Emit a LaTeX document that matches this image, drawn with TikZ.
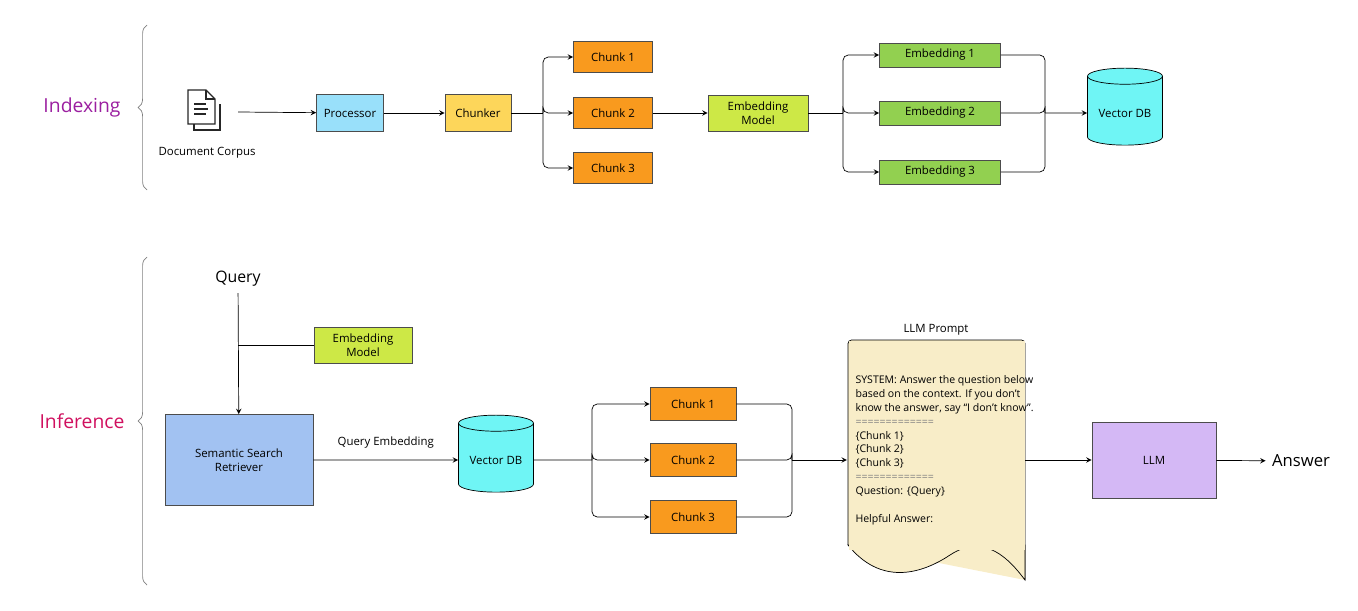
\documentclass[tikz,border=0pt]{standalone}
\usepackage{fontspec}
\setmainfont{Open Sans}
\usetikzlibrary{positioning}
\usetikzlibrary{arrows}
\usetikzlibrary{shapes.geometric}
\usetikzlibrary{decorations.pathreplacing}
\definecolor{procblue}{HTML}{99E0FA}
\definecolor{chunkyellow}{HTML}{FDD65A}
\definecolor{chunkorange}{HTML}{F99A1E}
\definecolor{embmodel}{HTML}{CDE846}
\definecolor{embgreen}{HTML}{92D050}
\definecolor{dbcyan}{HTML}{6FF5F5}
\definecolor{retblue}{HTML}{A2C2F2}
\definecolor{llmpurple}{HTML}{D4B8F5}
\definecolor{promptbg}{HTML}{F8EDC8}
\definecolor{idxpurple}{HTML}{9B1FA0}
\definecolor{infred}{HTML}{D0105F}

\begin{document}
\begin{tikzpicture}[
            x = 0.02cm, y = -0.02cm,
            > = stealth, % arrow head style
            semithick,
            font = \fontsize{6.5}{8}\selectfont
            ]

        \tikzstyle{box}=[draw = black!70, thin, align = center, inner sep = 1pt]
        \tikzstyle{db}=[draw = black, thin, cylinder, shape border rotate = 90,
            aspect = 0.25, fill = dbcyan, minimum width = 75*0.02cm, minimum height = 77*0.02cm]
        \tikzstyle{brace}=[draw = gray, thin, decorate, decoration = {brace, amplitude = 5pt}]

        \useasboundingbox (0,0) rectangle (1358,611);

	% indexing
        \draw[brace] (147,190) -- (147,25);
        \node[text = idxpurple, font = \fontsize{11}{13}\selectfont] (IDX) at (82,107) {Indexing};

        \coordinate (D) at (206,112);
        \draw[thick, black!85, fill = white] ([shift = {(-12,-14)}]D) -- ([shift = {(-12,18)}]D) -- ([shift = {(14,18)}]D) -- ([shift = {(14,-8)}]D);
        \draw[thick, black!85, fill = white] ([shift = {(-18,-22)}]D) -- ([shift = {(0,-22)}]D) -- ([shift = {(9,-13)}]D) -- ([shift = {(9,12)}]D) -- ([shift = {(-18,12)}]D) -- cycle;
        \draw[thick, black!85] ([shift = {(0,-22)}]D) -- ([shift = {(0,-13)}]D) -- ([shift = {(9,-13)}]D);
        \foreach \dy/\w in {-8/12, -3/14, 2/12}
            \draw[thick, black!85] ([shift = {(-12,\dy)}]D) -- ([shift = {(-12+\w,\dy)}]D);
        \node[inner sep = 0pt] (DOC) at (206,112) [minimum width = 30*0.02cm, minimum height = 36*0.02cm] {};
        \node (DC) at (207,153) {Document Corpus};

        \node[box, fill = procblue, minimum width = 67*0.02cm, minimum height = 37*0.02cm] (P) at (350,113) {Processor};
        \node[box, fill = chunkyellow, minimum width = 66*0.02cm, minimum height = 37*0.02cm] (CK) at (478,113) {Chunker};
        \draw[->, thin] (DOC) ++(32,0) -- (P);
        \draw[->, thin] (P) -- (CK);

        \foreach \i/\y in {1/57, 2/113, 3/168}
            \node[box, fill = chunkorange, minimum width = 79*0.02cm, minimum height = 31*0.02cm] (C\i) at (613,\y) {Chunk \i};
        \node[box, fill = embmodel, minimum width = 100*0.02cm, minimum height = 36*0.02cm] (EM) at (758,113) {Embedding\\Model};
        \foreach \i/\y in {1/55, 2/113, 3/172}
            \node[box, fill = embgreen, minimum width = 121*0.02cm, minimum height = 24*0.02cm] (E\i) at (940,\y) {Embedding \i};
        \node[db] (VDB) at (1125,113) {Vector DB};

        \coordinate (S1) at (543,113);
        \draw[thin] (CK) -- (S1);
        \foreach \i in {1,2,3}
            \draw[->, thin, rounded corners = 3pt] (S1) |- (C\i);
        \draw[->, thin] (C2) -- (EM);
        \coordinate (S2) at (843,113);
        \draw[thin] (EM) -- (S2);
        \foreach \i in {1,2,3}
            \draw[->, thin, rounded corners = 3pt] (S2) |- (E\i);
        \coordinate (M1) at (1045,113);
        \foreach \i in {1,2,3}
            \draw[thin, rounded corners = 3pt] (E\i) -| (M1);
        \draw[->, thin] (M1) -- (VDB);

	% inference
        \draw[brace] (147,585) -- (147,257);
        \node[text = infred, font = \fontsize{11}{13}\selectfont] (INF) at (82,421) {Inference};

        \node[font = \fontsize{9}{11}\selectfont] (Q) at (238,279) {Query};
        \node[box, fill = embmodel, minimum width = 98*0.02cm, minimum height = 36*0.02cm] (QEM) at (363,345) {Embedding\\Model};
        \node[box, fill = retblue, minimum width = 148*0.02cm, minimum height = 91*0.02cm] (SR) at (239,460) {Semantic Search\\Retriever};
        \draw[->, thin] (Q) -- (SR);
        \draw[thin] (QEM.west) -- (QEM.west -| Q);

        \node[db] (VDB2) at (496,460) {Vector DB};
        \draw[->, thin] (SR) -- node[above = 3pt] {Query Embedding} (VDB2);

        \foreach \i/\y in {1/404, 2/460, 3/517}
            \node[box, fill = chunkorange, minimum width = 86*0.02cm, minimum height = 33*0.02cm] (QC\i) at (693,\y) {Chunk \i};
        \coordinate (S3) at (592,460);
        \draw[thin] (VDB2) -- (S3);
        \foreach \i in {1,2,3}
            \draw[->, thin, rounded corners = 3pt] (S3) |- (QC\i);
        \coordinate (M2) at (792,460);
        \foreach \i in {1,2,3}
            \draw[thin, rounded corners = 3pt] (QC\i) -| (M2);

        % prompt document
        \draw[thin, fill = promptbg, rounded corners = 2pt] (848,545) -- (848,340) -- (1025,340) -- (1025,580);
        \draw[thin, fill = promptbg] (848,545) .. controls (880,585) and (920,575) .. (950,555)
            .. controls (985,532) and (1010,560) .. (1025,580) -- (1025,545) -- (848,545) -- cycle;
        \fill[promptbg] (848.5,341) rectangle (1024.5,550);
        \node[inner sep = 0pt] (PR) at (936,460) [minimum width = 177*0.02cm, minimum height = 200*0.02cm] {};
        \node (PT) at (936,330) {LLM Prompt};
        \node[align = left, anchor = north west, inner sep = 0pt, font = \fontsize{6}{7.9}\selectfont] (PTXT) at (855,375)
            {SYSTEM: Answer the question below\\based on the context. If you don't\\know the answer, say ``I don't know''.\\
             \textcolor{gray}{=============}\\\{Chunk 1\}\\\{Chunk 2\}\\\{Chunk 3\}\\
             \textcolor{gray}{=============}\\Question: \{Query\}\\[7.9pt]Helpful Answer:};
        \draw[->, thin] (M2) -- (PR.west);

        \node[box, fill = llmpurple, minimum width = 124*0.02cm, minimum height = 76*0.02cm] (LLM) at (1154,460) {LLM};
        \draw[->, thin] (PR.east) -- (LLM);
        \node[font = \fontsize{9.5}{11}\selectfont] (ANS) at (1301,461) {Answer};
        \draw[->, thin] (LLM) -- (ANS);

  \end{tikzpicture}
\end{document}
